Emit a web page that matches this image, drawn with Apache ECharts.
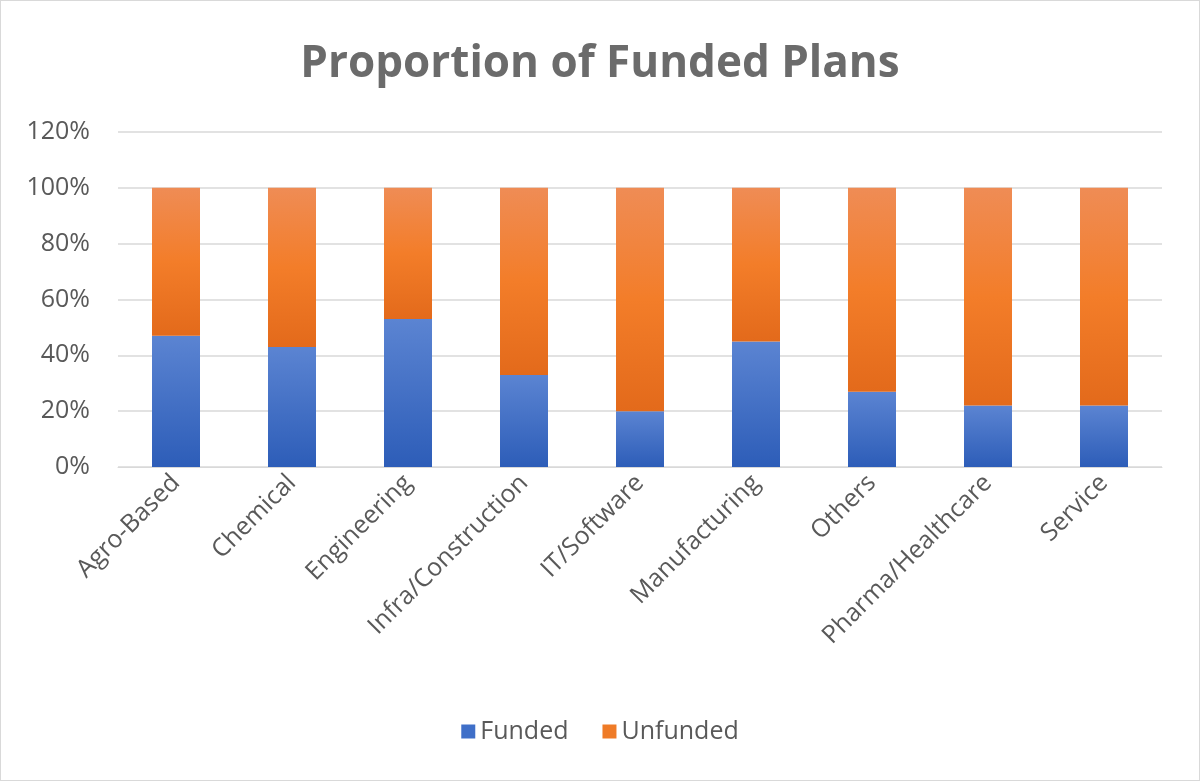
<!DOCTYPE html>
<html>
<head>
<meta charset="utf-8">
<script src="https://cdn.jsdelivr.net/npm/echarts@6/dist/echarts.min.js"></script>
<style>
  html, body { margin: 0; padding: 0; background: #fff; }
  #main { width: 1198px; height: 779px; border: 1px solid #d9d9d9; }
</style>
</head>
<body>
<div id="main"></div>
<script>
var categories = ['Agro-Based', 'Chemical', 'Engineering', 'Infra/Construction', 'IT/Software',
    'Manufacturing', 'Others', 'Pharma/Healthcare', 'Service'];
var funded = [47, 43, 53, 33, 20, 45, 27, 22, 22];
var unfunded = [53, 57, 47, 67, 80, 55, 73, 78, 78];

var chart = echarts.init(document.getElementById('main'));
var font = '"Open Sans", "Liberation Sans", sans-serif';

var blueFill = new echarts.graphic.LinearGradient(0, 0, 0, 1, [
    { offset: 0, color: '#5b84d2' },
    { offset: 1, color: '#2d5db8' }
]);
var orangeFill = new echarts.graphic.LinearGradient(0, 0, 0, 1, [
    { offset: 0, color: '#ef8c55' },
    { offset: 0.5, color: '#f37d29' },
    { offset: 1, color: '#e36a1b' }
]);

var option = {
    backgroundColor: '#fff',
    textStyle: { fontFamily: font },
    title: {
        text: 'Proportion of Funded Plans',
        left: 'center',
        top: 36,
        textStyle: { fontSize: 44, fontWeight: 'bold', color: '#6b6b6b', fontFamily: font }
    },
    legend: {
        bottom: 31,
        left: 'center',
        itemWidth: 14,
        itemHeight: 14,
        itemGap: 34,
        icon: 'rect',
        textStyle: { fontSize: 25, color: '#595959', fontFamily: font },
        data: [
            { name: 'Funded', itemStyle: { color: '#3f6fc8' } },
            { name: 'Unfunded', itemStyle: { color: '#ef7b27' } }
        ]
    },
    grid: { left: 117, right: 37, top: 131, bottom: 313, containLabel: false },
    xAxis: {
        type: 'category',
        data: categories,
        axisLine: { lineStyle: { color: '#d9d9d9', width: 1 } },
        axisTick: { show: false },
        axisLabel: { rotate: 45, fontSize: 25, color: '#595959', margin: 12, fontFamily: font }
    },
    yAxis: {
        type: 'value',
        min: 0,
        max: 120,
        interval: 20,
        axisLine: { show: false },
        axisTick: { show: false },
        splitLine: { lineStyle: { color: '#d9d9d9', width: 1.5 } },
        axisLabel: { formatter: '{value}%', fontSize: 25, color: '#595959', margin: 28, fontFamily: font }
    },
    series: [
        {
            name: 'Funded',
            type: 'bar',
            stack: 'total',
            barWidth: 48,
            data: funded,
            itemStyle: { color: blueFill, shadowBlur: 4, shadowColor: 'rgba(0,0,0,0.25)', shadowOffsetX: 1 }
        },
        {
            name: 'Unfunded',
            type: 'bar',
            stack: 'total',
            barWidth: 48,
            data: unfunded,
            itemStyle: { color: orangeFill, shadowBlur: 4, shadowColor: 'rgba(0,0,0,0.25)', shadowOffsetX: 1 }
        }
    ]
};

chart.setOption(option);
</script>
</body>
</html>
